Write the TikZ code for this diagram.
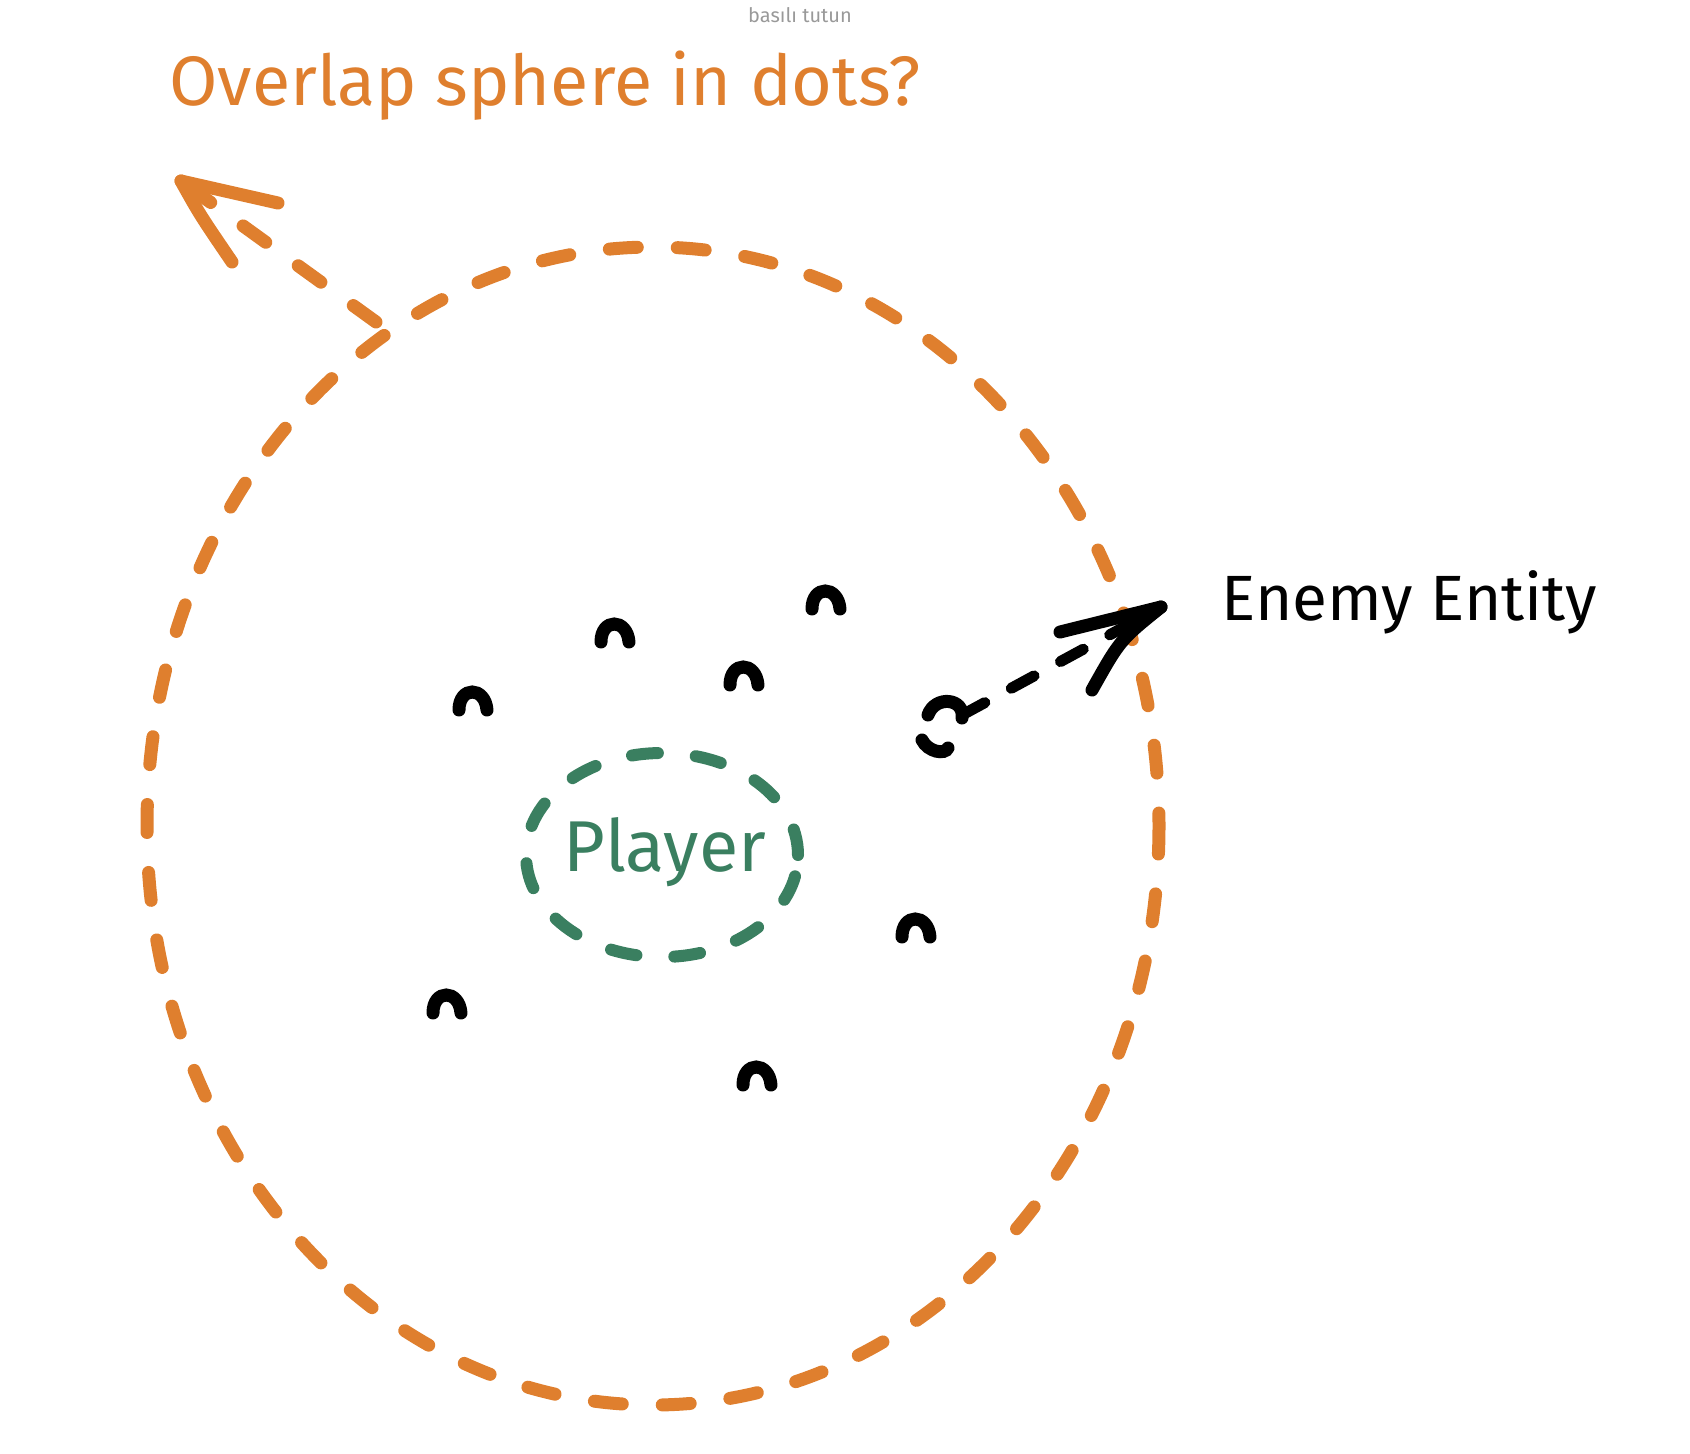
\documentclass[tikz,border=0pt]{standalone}
\usepackage{fontspec}
\setmainfont{Fira Sans}
\usetikzlibrary{shapes.geometric}
\definecolor{org}{HTML}{DF7F2E}
\definecolor{grn}{HTML}{3A7F60}
\begin{document}
\begin{tikzpicture}[x=1pt,y=-1pt,line cap=round,
  odash/.style={draw=org,line width=13pt,dash pattern=on 28pt off 40pt},
  gdash/.style={draw=grn,line width=12pt,dash pattern=on 26pt off 38pt},
  blob/.style={draw=black,line width=13pt}]
\useasboundingbox (0,0) rectangle (1690,1454);
\node[text=gray!80,font=\fontsize{20}{20}\selectfont] (hint) at (800,15) {basılı tutun};
\node[text=org,font=\fontsize{70}{70}\selectfont,anchor=west] (title) at (166,86) {Overlap sphere in dots?};
\node[font=\fontsize{64}{64}\selectfont,anchor=west] (enemy) at (1218,602) {Enemy Entity};
\path (653,826) coordinate (c);
\draw[odash] (c) ellipse[x radius=506, y radius=579];
\node[gdash,ellipse,draw,minimum width=272,minimum height=204,inner sep=0] (player) at (662,855) {};
\node[text=grn,font=\fontsize{72}{72}\selectfont] (pl) at (665,852) {Player};
% orange arrow
\coordinate (os) at (376,322); \coordinate (ot) at (181,181);
\draw[odash] (os) -- (ot);
\draw[org,line width=13pt] (ot) -- (278,203);
\draw[org,line width=13pt] (ot) .. controls (200,215) .. (232,262);
% enemy arrow
\coordinate (es) at (962,715); \coordinate (et) at (1161,607);
\draw[black,line width=11pt,dash pattern=on 26pt off 30pt] (es) -- (et);
\draw[black,line width=13pt] (et) -- (1060,632);
\draw[black,line width=13pt] (et) .. controls (1120,640) .. (1092,690);
% enemy hook
\draw[blob] (928,715) .. controls (935,695) and (965,698) .. (962,718)
  (922,740) .. controls (928,752) and (945,755) .. (948,748);
% blobs
\foreach \x/\y [count=\i] in {473/700,615/632,744/675,826/599,916/927,447/1003,757/1075}{
  \draw[blob] (\x-14,\y+10) .. controls (\x-14,\y-14) and (\x+12,\y-14) .. (\x+14,\y+10);
}
\end{tikzpicture}
\end{document}
